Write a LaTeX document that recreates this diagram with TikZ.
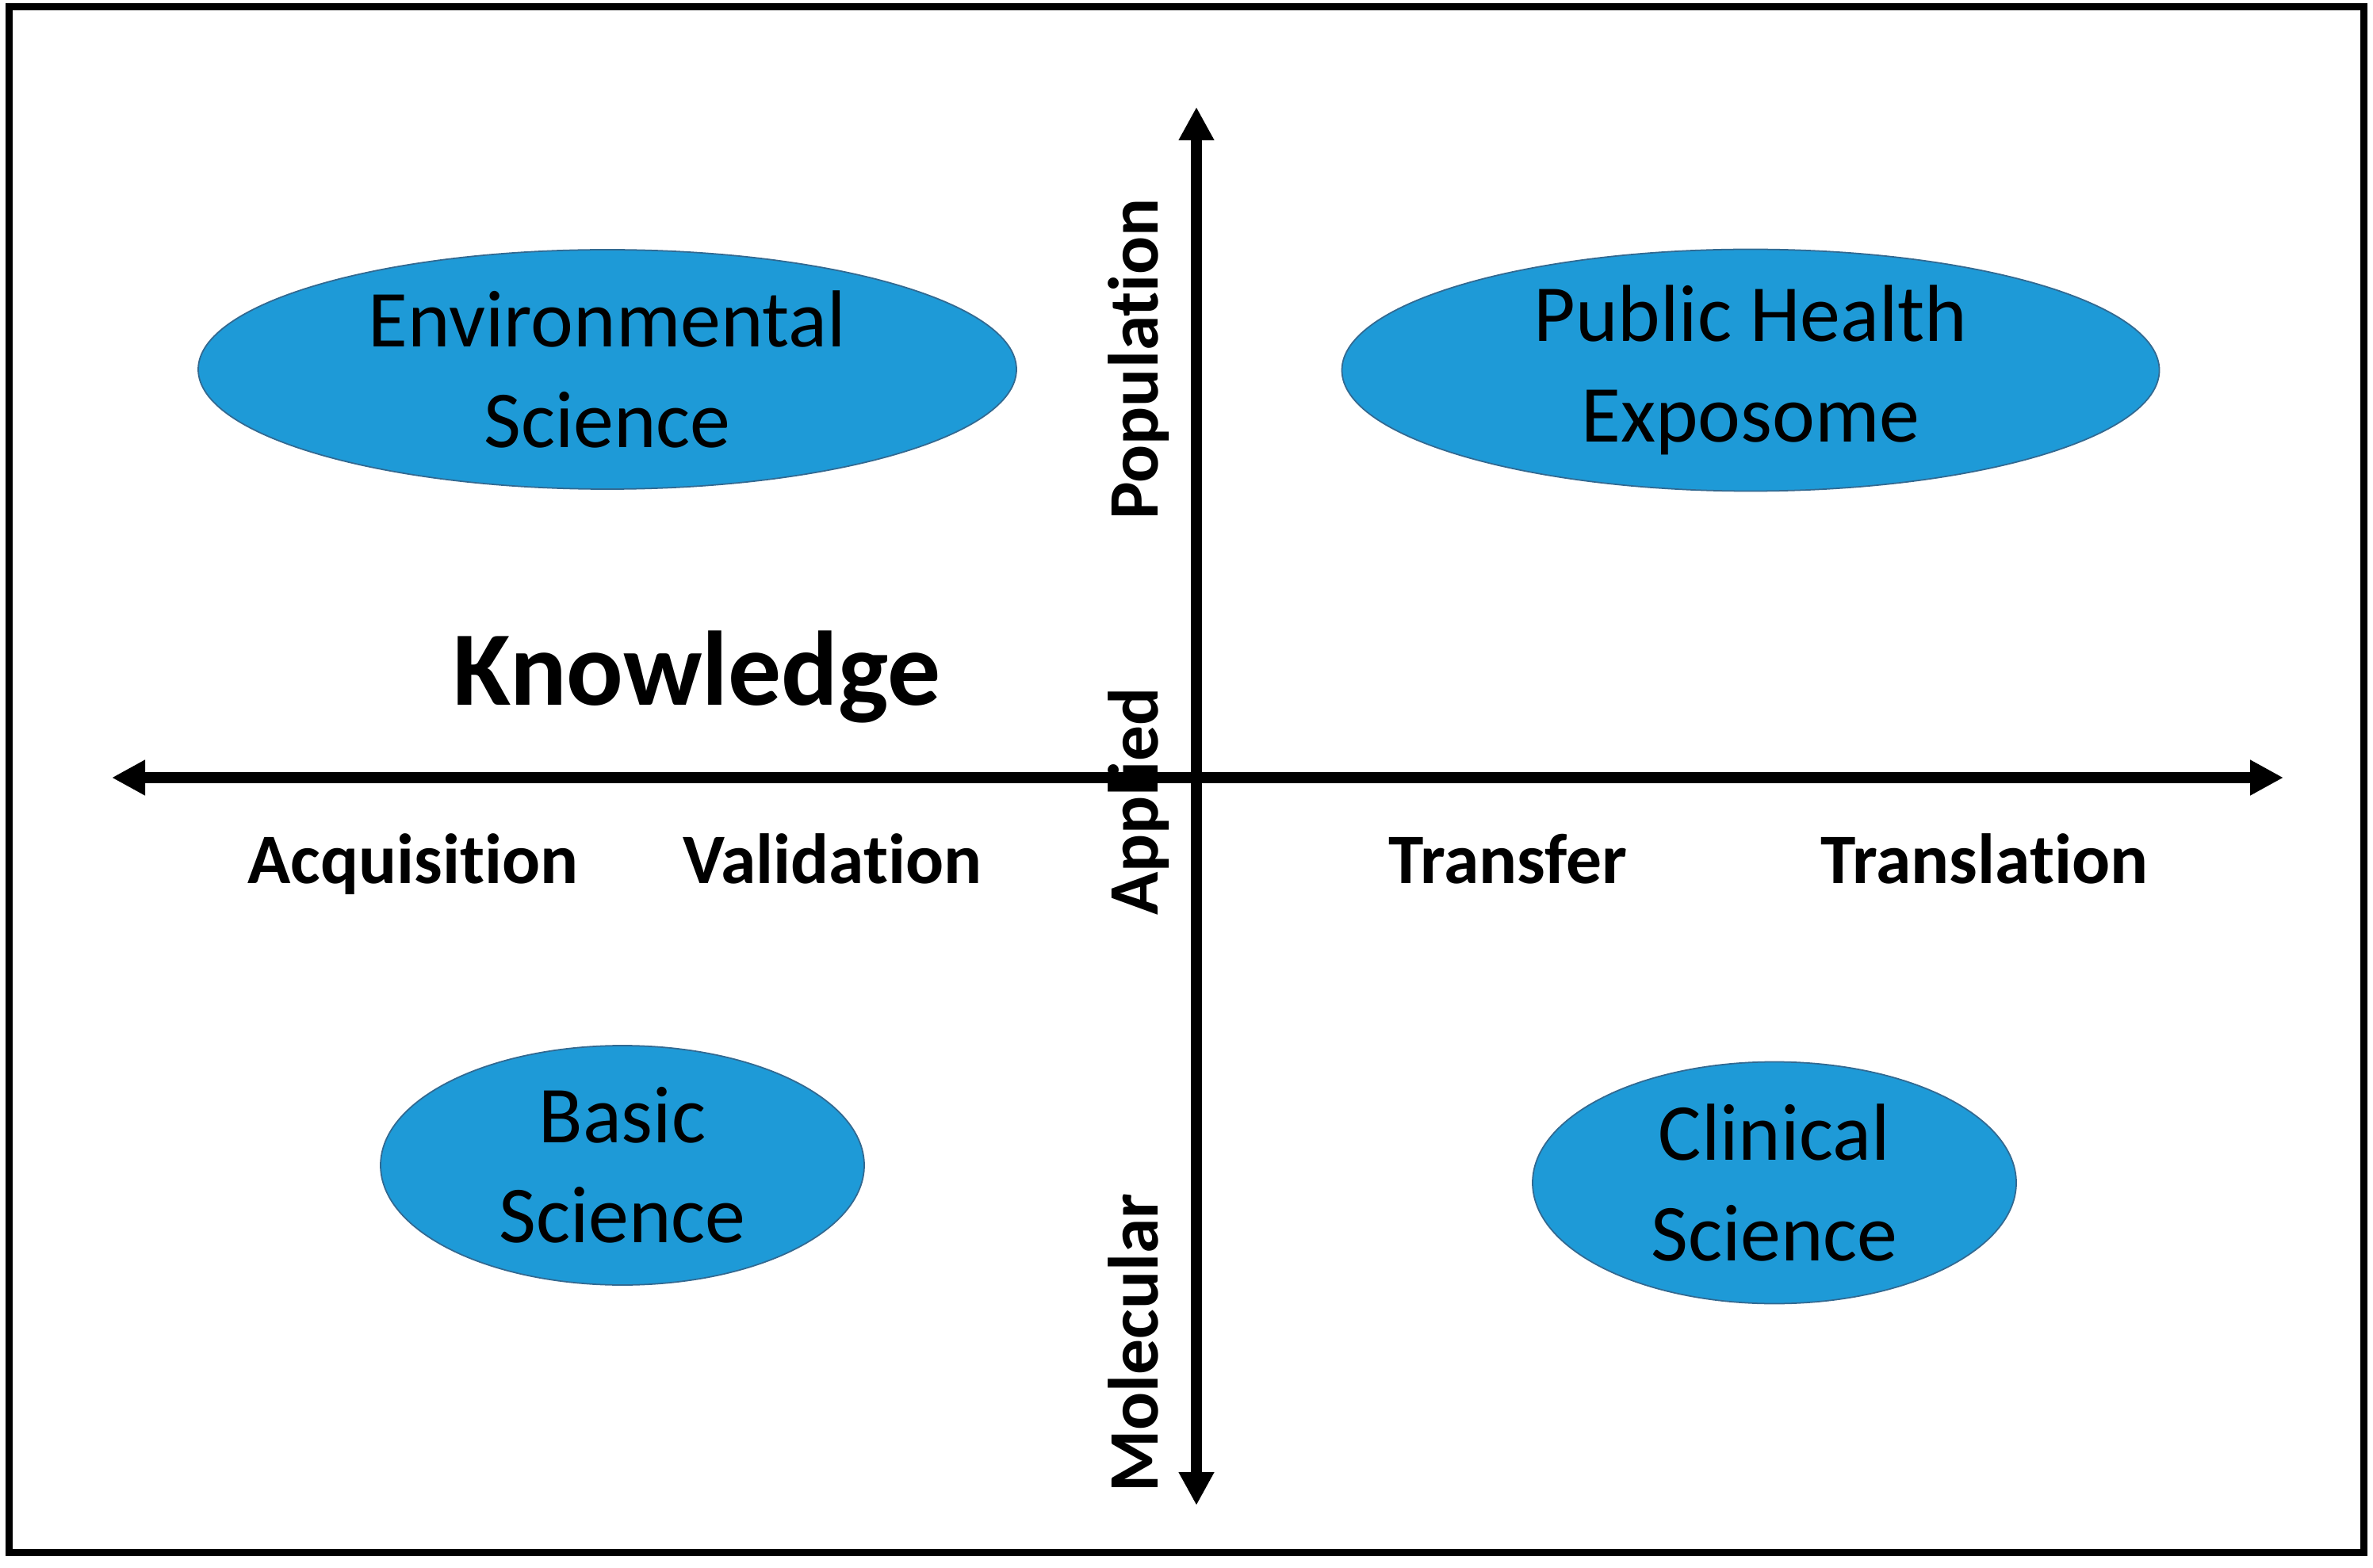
\documentclass[tikz,border=0pt]{standalone}
\usepackage{fontspec}
\setmainfont[Ligatures=NoCommon]{Carlito}
\usetikzlibrary{arrows.meta,shapes.geometric}
\definecolor{blobblue}{RGB}{30,154,215}
\definecolor{blobedge}{RGB}{50,105,145}
\begin{document}
\begin{tikzpicture}[
  blob/.style={ellipse, fill=blobblue, draw=blobedge, line width=0.5pt, inner sep=0pt},
  blobtext/.style={align=center, font=\fontsize{29}{36}\selectfont, inner sep=0pt},
  axislbl/.style={font=\fontsize{25.5}{30}\selectfont\bfseries, inner sep=0pt, anchor=base},
  bigtitle/.style={font=\fontsize{38}{44}\selectfont\bfseries, inner sep=0pt, anchor=base},
  axisline/.style={line width=4pt, {Triangle[length=4.2mm,width=4.2mm]}-{Triangle[length=4.2mm,width=4.2mm]}},
  frameline/.style={line width=0.09cm}
]
\useasboundingbox (0,0) rectangle (29.93,-19.78);
\draw[frameline] (0.115,-0.085) rectangle (29.815,-19.585);

% ellipses
\node[blob, minimum width=10.32cm, minimum height=3.02cm] (env) at (7.66,-4.66) {};
\node[blobtext] at (env) {Environmental\\Science};
\node[blob, minimum width=10.31cm, minimum height=3.05cm] (ph) at (22.08,-4.67) {};
\node[blobtext] at (ph) {Public Health\\Exposome};
\node[blob, minimum width=6.10cm, minimum height=3.02cm] (basic) at (7.85,-14.70) {};
\node[blobtext] at (basic) {Basic\\Science};
\node[blob, minimum width=6.10cm, minimum height=3.05cm] (clin) at (22.38,-14.92) {};
\node[blobtext] at (clin) {Clinical\\Science};

% labels
\node[axislbl, rotate=90] (pop) at (14.60,-4.53) {Population};
\node[axislbl, rotate=90] (app) at (14.60,-10.11) {Applied};
\node[axislbl, rotate=90] (mol) at (14.60,-16.94) {Molecular};
\node[bigtitle] (know) at (8.79,-8.90) {Knowledge};
\node[axislbl] (acq) at (5.21,-11.14) {Acquisition};
\node[axislbl] (val) at (10.50,-11.14) {Validation};
\node[axislbl] (tra) at (19.02,-11.14) {Transfer};
\node[axislbl] (trl) at (25.03,-11.14) {Translation};

% axes
\coordinate (top) at (15.09,-1.35);
\coordinate (bot) at (15.09,-18.99);
\coordinate (lft) at (1.41,-9.81);
\coordinate (rgt) at (28.80,-9.81);
\draw[axisline] (bot) -- (top);
\draw[axisline] (lft) -- (rgt);
\end{tikzpicture}
\end{document}
